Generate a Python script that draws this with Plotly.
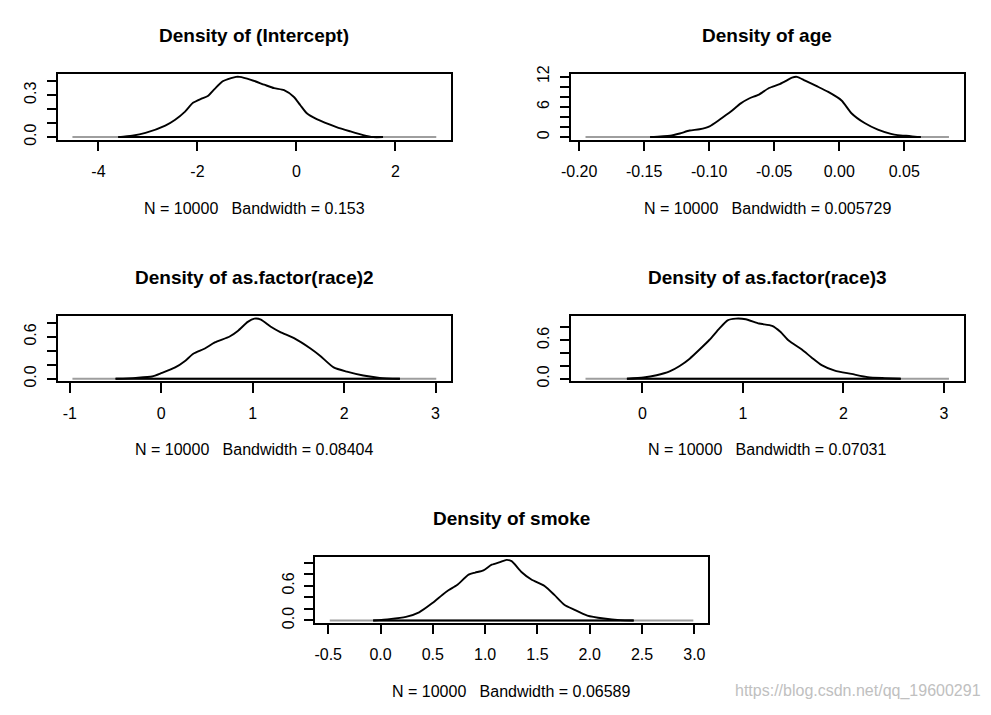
import plotly.graph_objects as go

# the page body keeps the browser's default 8px margin, so the figure is
# sized to fit exactly inside the 991x715 window
PAGE_W, PAGE_H, BODY_M = 991, 715, 8
W, H = PAGE_W - 2 * BODY_M, PAGE_H - 2 * BODY_M

# ---------------- data ----------------
titles = ["Density of (Intercept)", "Density of age", "Density of as.factor(race)2",
          "Density of as.factor(race)3", "Density of smoke"]
n_obs = [10000, 10000, 10000, 10000, 10000]
bandwidths = ["0.153", "0.005729", "0.08404", "0.07031", "0.06589"]

# density estimate x-range (grey zero line) per panel
dens_range = [[-4.526, 2.826], [-0.1951, 0.0844], [-0.972, 3.008],
              [-0.567, 3.05], [-0.485, 2.99]]
# range where the observations are dense (dark rug along the baseline)
obs_range = [[-3.6, 1.75], [-0.1454, 0.0627], [-0.5, 2.61], [-0.155, 2.57], [-0.07, 2.42]]

intercept_x = [-3.6, -3.32, -3.05, -2.65, -2.45, -2.25, -2.09, -1.92, -1.79, -1.65, -1.49,
               -1.32, -1.22, -1.15, -0.92, -0.65, -0.45, -0.25, -0.05, 0.08, 0.21, 0.41,
               0.81, 1.08, 1.35, 1.55, 1.75]
intercept_y = [0.0, 0.01, 0.03, 0.082, 0.124, 0.182, 0.245, 0.275, 0.294, 0.345, 0.399,
               0.422, 0.431, 0.431, 0.41, 0.375, 0.35, 0.336, 0.287, 0.228, 0.17, 0.128,
               0.072, 0.042, 0.014, 0.0, 0.0]

age_x = [-0.1454, -0.130, -0.1226, -0.115, -0.1074, -0.0997, -0.0921, -0.0833, -0.0757,
         -0.0693, -0.0617, -0.054, -0.0464, -0.0414, -0.0363, -0.0325, -0.0262, -0.0173,
         -0.0084, 0.0018, 0.0094, 0.0195, 0.0297, 0.0398, 0.0449, 0.055, 0.0627]
age_y = [0.0, 0.26, 0.71, 1.3, 1.56, 2.14, 3.44, 5.06, 6.69, 7.66, 8.44, 9.74, 10.45, 11.1,
         11.8, 11.95, 11.2, 10.1, 8.96, 7.27, 4.74, 2.79, 1.49, 0.65, 0.39, 0.2, 0.0]

race2_x = [-0.5, -0.28, -0.1, 0.006, 0.152, 0.26, 0.35, 0.477, 0.585, 0.748, 0.837, 0.946,
           1.018, 1.09, 1.198, 1.307, 1.452, 1.632, 1.74, 1.885, 2.03, 2.21, 2.39, 2.61]
race2_y = [0.0, 0.014, 0.033, 0.084, 0.163, 0.256, 0.358, 0.433, 0.521, 0.605, 0.684, 0.814,
           0.86, 0.847, 0.744, 0.665, 0.581, 0.433, 0.326, 0.163, 0.102, 0.047, 0.014, 0.0]

race3_x = [-0.155, 0.01, 0.14, 0.27, 0.37, 0.47, 0.568, 0.667, 0.766, 0.847, 0.929, 1.028,
           1.16, 1.29, 1.372, 1.455, 1.586, 1.685, 1.783, 1.914, 2.08, 2.243, 2.41, 2.57]
race3_y = [0.0, 0.02, 0.056, 0.116, 0.2, 0.314, 0.456, 0.608, 0.785, 0.911, 0.937, 0.927,
           0.861, 0.825, 0.734, 0.597, 0.456, 0.329, 0.213, 0.127, 0.076, 0.025, 0.01, 0.0]

smoke_x = [-0.07, 0.085, 0.243, 0.369, 0.496, 0.59, 0.653, 0.732, 0.842, 0.905, 0.984, 1.063,
           1.142, 1.205, 1.253, 1.347, 1.442, 1.568, 1.662, 1.757, 1.851, 1.977, 2.135, 2.29, 2.42]
smoke_y = [0.0, 0.023, 0.0625, 0.142, 0.301, 0.443, 0.528, 0.614, 0.795, 0.83, 0.869, 0.966,
           1.011, 1.05, 1.028, 0.841, 0.71, 0.597, 0.443, 0.273, 0.1875, 0.085, 0.034, 0.006, 0.0]

x_ticks = [[-4, -2, 0, 2],
           [-0.20, -0.15, -0.10, -0.05, 0.00, 0.05],
           [-1, 0, 1, 2, 3],
           [0, 1, 2, 3],
           [-0.5, 0.0, 0.5, 1.0, 1.5, 2.0, 2.5, 3.0]]
x_tick_text = [["-4", "-2", "0", "2"],
               ["-0.20", "-0.15", "-0.10", "-0.05", "0.00", "0.05"],
               ["-1", "0", "1", "2", "3"],
               ["0", "1", "2", "3"],
               ["-0.5", "0.0", "0.5", "1.0", "1.5", "2.0", "2.5", "3.0"]]
y_ticks = [[0, 0.1, 0.2, 0.3, 0.4],
           [0, 2, 4, 6, 8, 10, 12],
           [0, 0.2, 0.4, 0.6, 0.8],
           [0, 0.2, 0.4, 0.6, 0.8],
           [0, 0.2, 0.4, 0.6, 0.8, 1.0]]
y_tick_text = [["0.0", "", "", "0.3", ""],
               ["0", "", "", "6", "", "", "12"],
               ["0.0", "", "", "0.6", ""],
               ["0.0", "", "", "0.6", ""],
               ["0.0", "", "", "0.6", "", ""]]

curves_x = [intercept_x, age_x, race2_x, race3_x, smoke_x]
curves_y = [intercept_y, age_y, race2_y, race3_y, smoke_y]

# ---------------- layout (page-pixel boxes of the five plot regions) ----------------
boxes = [(48.3, 445.3, 66.7, 133.2),
         (566.7, 963.3, 66.7, 133.2),
         (48.3, 445.3, 313.8, 380.2),
         (566.7, 963.3, 313.8, 380.2),
         (308.3, 705.0, 560.3, 627.2)]


def fx(px):
    return (px - BODY_M) / W


def fy(py):
    return 1 - (py - BODY_M) / H


FONT = "Liberation Sans, Arial, sans-serif"
fig = go.Figure()
annotations = []
layout_axes = {}

for i in range(5):
    ax = "" if i == 0 else str(i + 1)
    xref, yref = "x" + ax, "y" + ax
    left, right, top, bottom = boxes[i]
    lo, hi = dens_range[i]
    d = hi - lo
    ymax = max(curves_y[i])

    # grey zero line over the density support
    fig.add_trace(go.Scatter(x=dens_range[i], y=[0, 0], mode="lines",
                             line=dict(color="#9e9e9e", width=2),
                             xaxis=xref, yaxis=yref, hoverinfo="skip", showlegend=False))
    # dense observations along the baseline
    fig.add_trace(go.Scatter(x=obs_range[i], y=[0, 0], mode="lines",
                             line=dict(color="black", width=2),
                             xaxis=xref, yaxis=yref, hoverinfo="skip", showlegend=False))
    # density curve
    fig.add_trace(go.Scatter(x=curves_x[i], y=curves_y[i], mode="lines",
                             line=dict(color="black", width=1.9, shape="spline", smoothing=0.6),
                             xaxis=xref, yaxis=yref, showlegend=False))

    common = dict(showgrid=False, zeroline=False, showline=True, mirror=True,
                  linecolor="black", linewidth=1.6, ticks="outside", ticklen=9.5,
                  tickwidth=1.6, tickcolor="black",
                  tickfont=dict(family=FONT, size=16, color="black"))
    layout_axes["xaxis" + ax] = dict(common, domain=[fx(left), fx(right)],
                                     range=[lo - 0.04 * d, hi + 0.04 * d],
                                     anchor=yref, tickmode="array",
                                     tickvals=x_ticks[i], ticktext=x_tick_text[i],
                                     ticklabelstandoff=7)
    layout_axes["yaxis" + ax] = dict(common, domain=[fy(bottom), fy(top)],
                                     range=[-0.04 * ymax, 1.04 * ymax],
                                     anchor=xref, tickmode="array",
                                     tickvals=y_ticks[i], ticktext=y_tick_text[i],
                                     tickangle=-90, ticklabelstandoff=4)

    cx = fx((left + right) / 2)
    annotations.append(dict(text="<b>" + titles[i] + "</b>", x=cx, y=fy(top - 39.5),
                            xref="paper", yref="paper", showarrow=False,
                            xanchor="center", yanchor="middle",
                            font=dict(family=FONT, size=19, color="black")))
    xlab = "N = %d\u00a0\u00a0 Bandwidth = %s" % (n_obs[i], bandwidths[i])
    annotations.append(dict(text=xlab, x=cx, y=fy(bottom + 70),
                            xref="paper", yref="paper", showarrow=False,
                            xanchor="center", yanchor="middle",
                            font=dict(family=FONT, size=16, color="black")))

annotations.append(dict(text="https://blog.csdn.net/qq_19600291", x=1.0, y=fy(697),
                        xref="paper", yref="paper", showarrow=False,
                        xanchor="right", yanchor="middle",
                        font=dict(family=FONT, size=16, color="#c0c0c0")))

fig.update_layout(width=W, height=H, margin=dict(l=0, r=0, t=0, b=0),
                  paper_bgcolor="white", plot_bgcolor="white",
                  annotations=annotations, **layout_axes)

fig.write_html("out.html", config={"displayModeBar": False})
